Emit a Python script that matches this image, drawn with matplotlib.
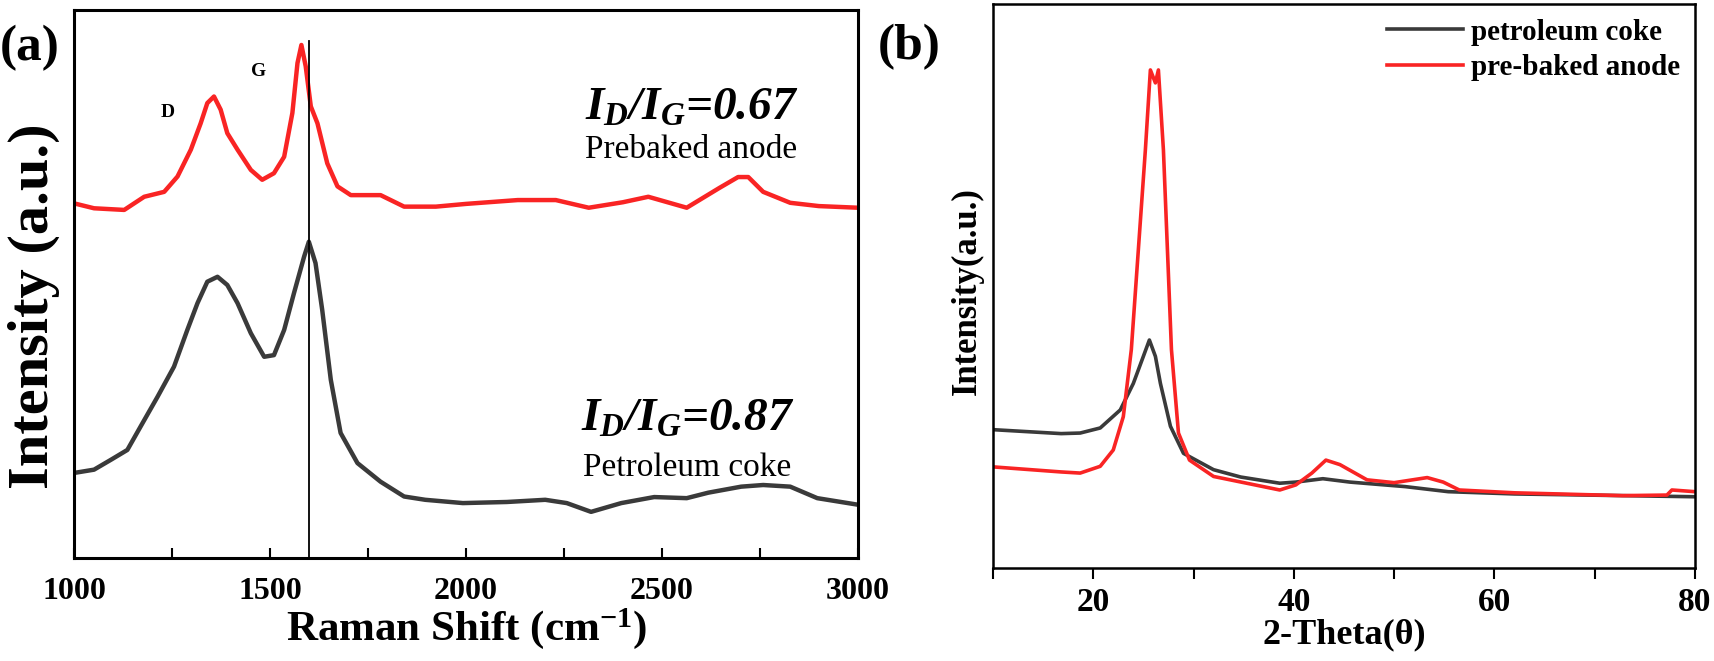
import matplotlib
matplotlib.use("Agg")
import matplotlib.pyplot as plt

plt.rcParams['font.family'] = ['Liberation Serif', 'DejaVu Serif']
plt.rcParams['mathtext.fontset'] = 'custom'
plt.rcParams['mathtext.rm'] = 'Liberation Serif:italic:bold'
plt.rcParams['mathtext.it'] = 'Liberation Serif:italic:bold'
plt.rcParams['mathtext.bf'] = 'Liberation Serif:bold'

# ---------------- Panel (a): Raman ----------------
raman_pre_x = [1000, 1051, 1128, 1179, 1230, 1264, 1298, 1323, 1340, 1357, 1374, 1391, 1417,
               1451, 1480, 1510, 1536, 1557, 1570, 1580, 1591, 1604, 1621, 1646, 1672, 1706,
               1782, 1842, 1923, 2000, 2132, 2229, 2313, 2400, 2465, 2563, 2646, 2694, 2720,
               2758, 2827, 2900, 3000]
raman_pre_y = [64.7, 63.8, 63.5, 65.9, 66.8, 69.6, 74.5, 79.3, 83.0, 84.2, 81.8, 77.5, 74.5,
               70.8, 69.0, 70.2, 73.2, 81.2, 90.3, 93.6, 89.7, 82.4, 79.3, 72.0, 67.8, 66.2,
               66.2, 64.1, 64.1, 64.6, 65.3, 65.3, 63.9, 64.9, 65.9, 63.9, 67.5, 69.5, 69.5,
               66.8, 64.8, 64.2, 63.9]

raman_coke_x = [1000, 1051, 1094, 1136, 1170, 1213, 1255, 1289, 1315, 1340, 1366, 1391, 1417,
                1451, 1485, 1510, 1536, 1561, 1587, 1599, 1616, 1633, 1655, 1680, 1723, 1782,
                1842, 1896, 1992, 2104, 2202, 2257, 2319, 2396, 2480, 2563, 2618, 2702, 2758,
                2827, 2896, 3000]
raman_coke_y = [15.5, 16.1, 17.9, 19.7, 24.0, 29.4, 34.9, 41.6, 46.5, 50.4, 51.3, 49.8, 46.5,
                41.0, 36.7, 37.0, 41.6, 48.3, 55.0, 57.7, 53.8, 45.3, 32.5, 22.8, 17.3, 13.9,
                11.2, 10.6, 10.0, 10.2, 10.6, 10.0, 8.4, 10.0, 11.1, 10.9, 11.9, 13.0, 13.3,
                13.0, 10.9, 9.7]

raman_ticks = [1000, 1500, 2000, 2500, 3000]
g_line_x = 1600
g_line_y = [0, 94.3]

# ---------------- Panel (b): XRD ----------------
xrd_coke_x = [10, 16.8, 18.7, 20.7, 22.7, 24.0, 25.0, 25.6, 26.2, 26.7, 27.7, 29.0, 32.0,
              34.7, 38.6, 40.2, 42.9, 45.6, 51.1, 55.4, 62.0, 72.8, 80]
xrd_coke_y = [24.5, 23.8, 23.9, 24.8, 28.0, 32.7, 37.5, 40.4, 37.5, 32.7, 25.1, 20.3, 17.4,
              16.1, 15.0, 15.2, 15.8, 15.2, 14.4, 13.5, 13.1, 12.8, 12.6]

xrd_anode_x = [10, 16.8, 18.7, 20.7, 22.0, 23.0, 23.8, 24.5, 25.2, 25.7, 26.2, 26.5, 27.0,
               27.4, 27.8, 28.5, 29.6, 32.0, 38.6, 40.2, 41.8, 43.2, 44.6, 47.3, 50.0, 53.3,
               54.9, 56.5, 62.0, 72.8, 77.2, 77.7, 80]
xrd_anode_y = [17.9, 17.0, 16.8, 18.0, 20.9, 26.8, 38.7, 56.4, 74.1, 88.3, 86.0, 88.3, 74.1,
               56.4, 38.7, 23.9, 19.1, 16.2, 13.8, 14.7, 16.8, 19.1, 18.3, 15.6, 15.1, 16.0,
               15.2, 13.8, 13.3, 12.8, 12.9, 13.8, 13.5]

xrd_ticks = [20, 40, 60, 80]
legend_labels = ['petroleum coke', 'pre-baked anode']

RED = '#f92424'
DARK = '#3a3a3a'

fig = plt.figure(figsize=(17.14, 6.61), dpi=100)

# ---- (a)
axa = fig.add_axes([0.0432, 0.156, 0.4574, 0.829])
axa.plot(raman_pre_x, raman_pre_y, color=RED, lw=3.2, solid_joinstyle='round')
axa.plot(raman_coke_x, raman_coke_y, color=DARK, lw=3.2, solid_joinstyle='round')
axa.plot([g_line_x, g_line_x], g_line_y, color='black', lw=1.3)
axa.set_xlim(1000, 3000)
axa.set_ylim(0, 100)
axa.set_yticks([])
axa.set_xticks(raman_ticks)
axa.set_xticks([1250, 1750, 2250, 2750], minor=True)
axa.tick_params(axis='x', which='both', direction='in', length=7, width=1.5, pad=14,
                labelsize=23)
for lab in axa.get_xticklabels():
    lab.set_fontweight('bold')
for sp in axa.spines.values():
    sp.set_linewidth(2.2)
axa.set_xlabel(r'Raman Shift (cm$^{\mathbf{-1}}$)', fontsize=31, fontweight='bold')
axa.xaxis.set_label_coords(0.5, -0.088)
axa.set_ylabel('Intensity (a.u.)', fontsize=42, fontweight='bold')
axa.yaxis.set_label_coords(-0.018, 0.46)

axa.text(1240, 81.2, 'D', fontsize=14, fontweight='bold', ha='center', va='center')
axa.text(1470, 88.7, 'G', fontsize=14, fontweight='bold', ha='center', va='center')
axa.text(2575, 82, r'$I_D/I_G$=0.67', fontsize=34, fontstyle='italic', fontweight='bold',
         ha='center', va='center')
axa.text(2575, 74.4, 'Prebaked anode', fontsize=24, ha='center', va='center')
axa.text(2565, 25.2, r'$I_D/I_G$=0.87', fontsize=34, fontstyle='italic', fontweight='bold',
         ha='center', va='center')
axa.text(2565, 16.4, 'Petroleum coke', fontsize=24, ha='center', va='center')

fig.text(30 / 1714, 1 - 48 / 661, '(a)', fontsize=37, fontweight='bold', ha='center', va='center')

# ---- (b)
axb = fig.add_axes([0.5793, 0.141, 0.4096, 0.853])
axb.plot(xrd_coke_x, xrd_coke_y, color=DARK, lw=2.6, label=legend_labels[0])
axb.plot(xrd_anode_x, xrd_anode_y, color=RED, lw=2.6, label=legend_labels[1])
axb.set_xlim(10, 80)
axb.set_ylim(0, 100)
axb.set_yticks([])
axb.set_xticks(xrd_ticks)
axb.set_xticks([10, 30, 50, 70], minor=True)
axb.tick_params(axis='x', which='both', direction='out', length=8, width=1.5, pad=6,
                labelsize=24)
for lab in axb.get_xticklabels():
    lab.set_fontweight('bold')
for sp in axb.spines.values():
    sp.set_linewidth(1.8)
axb.set_xlabel('2-Theta(θ)', fontsize=26, fontweight='bold', labelpad=0)
axb.set_ylabel('Intensity(a.u.)', fontsize=25, fontweight='bold')
axb.yaxis.set_label_coords(-0.013, 0.49)
leg = axb.legend(loc='upper right', frameon=False, handlelength=2.6,
                 handletextpad=0.3, labelspacing=0.3, borderaxespad=0.1,
                 prop={'weight': 'bold', 'size': 21})

fig.text(909 / 1714, 1 - 47 / 661, '(b)', fontsize=37, fontweight='bold', ha='center', va='center')

fig.savefig('out.png', dpi=100)
